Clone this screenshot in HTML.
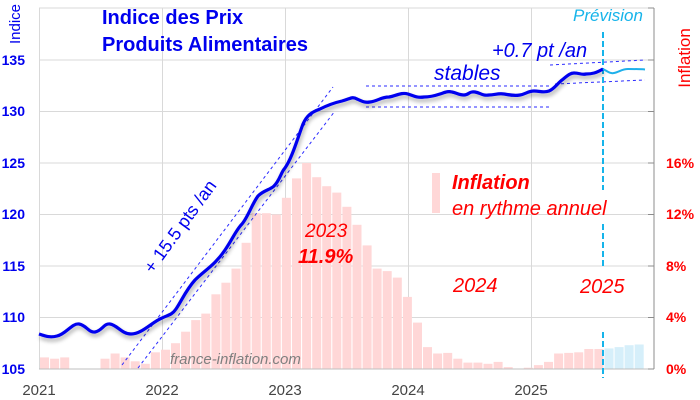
<!DOCTYPE html>
<html><head><meta charset="utf-8"><style>
html,body{margin:0;padding:0;background:#fff}
svg{display:block}
text{font-family:"Liberation Sans",sans-serif}
</style></head><body>
<svg width="700" height="400" viewBox="0 0 700 400" xmlns="http://www.w3.org/2000/svg">
<defs>
<filter id="sh" x="-10%" y="-10%" width="120%" height="130%"><feGaussianBlur in="SourceAlpha" stdDeviation="2"/><feOffset dx="1" dy="3"/><feComponentTransfer><feFuncA type="linear" slope="0.35"/></feComponentTransfer><feMerge><feMergeNode/><feMergeNode in="SourceGraphic"/></feMerge></filter>
</defs>
<g stroke="#d9d9d9" stroke-width="1">
<line x1="39" y1="60" x2="654" y2="60"/><line x1="39" y1="111.5" x2="654" y2="111.5"/><line x1="39" y1="163" x2="654" y2="163"/><line x1="39" y1="214.5" x2="654" y2="214.5"/><line x1="39" y1="266" x2="654" y2="266"/><line x1="39" y1="317.5" x2="654" y2="317.5"/>
<line x1="39.5" y1="8" x2="39.5" y2="369"/><line x1="162.5" y1="8" x2="162.5" y2="369"/><line x1="285.5" y1="8" x2="285.5" y2="369"/><line x1="408.5" y1="8" x2="408.5" y2="369"/><line x1="531.5" y1="8" x2="531.5" y2="369"/>
<line x1="39" y1="8" x2="654" y2="8"/>
</g>
<g fill="#ffd7d7">
<rect x="40.0" y="357.4" width="9" height="11.6"/>
<rect x="50.1" y="358.7" width="9" height="10.3"/>
<rect x="60.2" y="357.4" width="9" height="11.6"/>
<rect x="100.5" y="358.7" width="9" height="10.3"/>
<rect x="110.6" y="353.5" width="9" height="15.5"/>
<rect x="120.6" y="357.4" width="9" height="11.6"/>
<rect x="130.7" y="361.3" width="9" height="7.7"/>
<rect x="140.8" y="363.8" width="9" height="5.2"/>
<rect x="150.9" y="352.3" width="9" height="16.7"/>
<rect x="161.0" y="349.7" width="9" height="19.3"/>
<rect x="171.0" y="343.2" width="9" height="25.8"/>
<rect x="181.1" y="331.7" width="9" height="37.3"/>
<rect x="191.2" y="320.1" width="9" height="48.9"/>
<rect x="201.3" y="313.6" width="9" height="55.4"/>
<rect x="211.4" y="294.3" width="9" height="74.7"/>
<rect x="221.4" y="282.7" width="9" height="86.3"/>
<rect x="231.5" y="268.6" width="9" height="100.4"/>
<rect x="241.6" y="242.8" width="9" height="126.2"/>
<rect x="251.7" y="213.2" width="9" height="155.8"/>
<rect x="261.8" y="213.2" width="9" height="155.8"/>
<rect x="271.8" y="214.5" width="9" height="154.5"/>
<rect x="281.9" y="197.8" width="9" height="171.2"/>
<rect x="292.0" y="178.4" width="9" height="190.6"/>
<rect x="302.1" y="163.0" width="9" height="206.0"/>
<rect x="312.2" y="177.2" width="9" height="191.8"/>
<rect x="322.2" y="186.2" width="9" height="182.8"/>
<rect x="332.3" y="192.6" width="9" height="176.4"/>
<rect x="342.4" y="206.8" width="9" height="162.2"/>
<rect x="352.5" y="224.8" width="9" height="144.2"/>
<rect x="362.6" y="245.4" width="9" height="123.6"/>
<rect x="372.6" y="268.6" width="9" height="100.4"/>
<rect x="382.7" y="271.1" width="9" height="97.9"/>
<rect x="392.8" y="277.6" width="9" height="91.4"/>
<rect x="402.9" y="296.9" width="9" height="72.1"/>
<rect x="413.0" y="322.6" width="9" height="46.4"/>
<rect x="423.0" y="347.1" width="9" height="21.9"/>
<rect x="433.1" y="353.5" width="9" height="15.5"/>
<rect x="443.2" y="352.9" width="9" height="16.1"/>
<rect x="453.3" y="358.7" width="9" height="10.3"/>
<rect x="463.4" y="362.6" width="9" height="6.4"/>
<rect x="473.4" y="362.6" width="9" height="6.4"/>
<rect x="483.5" y="363.8" width="9" height="5.2"/>
<rect x="493.6" y="361.9" width="9" height="7.1"/>
<rect x="503.7" y="367.1" width="9" height="1.9"/>
<rect x="523.8" y="367.7" width="9" height="1.3"/>
<rect x="533.9" y="365.1" width="9" height="3.9"/>
<rect x="544.0" y="361.9" width="9" height="7.1"/>
<rect x="554.1" y="353.5" width="9" height="15.5"/>
<rect x="564.2" y="352.9" width="9" height="16.1"/>
<rect x="574.2" y="352.3" width="9" height="16.7"/>
<rect x="584.3" y="349.0" width="9" height="20.0"/>
<rect x="594.4" y="349.0" width="9" height="20.0"/>
</g>
<g fill="#d6effa">
<rect x="604.5" y="348.4" width="9" height="20.6"/>
<rect x="614.6" y="347.1" width="9" height="21.9"/>
<rect x="624.6" y="345.2" width="9" height="23.8"/>
<rect x="634.7" y="344.5" width="9" height="24.5"/>
</g>
<line x1="39" y1="369" x2="654" y2="369" stroke="#bfbfbf"/>
<line x1="654" y1="8" x2="654" y2="369" stroke="#8c8c8c"/>
<g stroke="#8c8c8c"><line x1="648" y1="8" x2="654" y2="8"/><line x1="648" y1="60" x2="654" y2="60"/><line x1="648" y1="111.5" x2="654" y2="111.5"/><line x1="648" y1="163" x2="654" y2="163"/><line x1="648" y1="214.5" x2="654" y2="214.5"/><line x1="648" y1="266" x2="654" y2="266"/><line x1="648" y1="317.5" x2="654" y2="317.5"/><line x1="648" y1="369" x2="654" y2="369"/></g>
<g stroke="#2b2bff" stroke-width="1" stroke-dasharray="3,3" fill="none">
<line x1="122" y1="365" x2="333" y2="87"/>
<line x1="138" y1="368" x2="335" y2="111"/>
<line x1="366" y1="86" x2="550" y2="86"/>
<line x1="366" y1="107" x2="550" y2="107"/>
<line x1="550" y1="65" x2="645" y2="60"/>
<line x1="555" y1="84" x2="645" y2="80"/>
</g>
<g stroke="#16b4ea" stroke-width="2" stroke-dasharray="6,3"><line x1="603" y1="32" x2="603" y2="190"/><line x1="603" y1="224" x2="603" y2="268"/><line x1="603" y1="332" x2="603" y2="378"/></g>
<path filter="url(#sh)" d="M39,334 C45,336 50,338 57,336 C66,334 72,323 79,324 C86,325 89,333 95,332 C102,331 104,323 110,324 C117,325 122,334 131,334 C142,334 152,322 162,318 C168,315 172,315 176,309 C182,300 186,290 195,280 C205,270 215,265 225,250 C232,240 236,230 242,224 C248,217 252,204 258,196 C264,190 270,190 274,186 C280,180 281,172 285,168 C292,158 297,140 303,124 C307,115 312,112 320,109 C328,105 333,103 342,101 C350,99 352,96 357,99 C362,101 364,103 370,102 C378,101 381,97 389,97 C396,96 401,92 408,94 C414,96 417,98 424,97 C430,97 434,96 440,94 C446,92 448,91 452,92 C457,93 459,95 464,95 C469,95 469,91 475,92 C481,93 482,96 489,95 C495,95 498,93 504,94 C510,95 514,96 520,95 C526,94 528,91 534,91 C540,91 544,93 549,91 C554,89 557,84 562,80 C567,76 570,73 574,73 C580,73 581,75 586,74 C592,74 596,73 603,69" fill="none" stroke="#0000ee" stroke-width="3.2" stroke-linejoin="round"/>
<path d="M603,69 C607,71 610,74 614,73 C619,72 622,69 628,69 C634,69 640,69 645,69.5" fill="none" stroke="#1fb0ea" stroke-width="2"/>
<line x1="62" y1="26" x2="92" y2="26" stroke="#0000ee" stroke-width="3.5" filter="url(#sh)"/>
<text x="102" y="24" font-size="20" font-weight="bold" fill="#0000ee">Indice des Prix</text>
<text x="102" y="51" font-size="20" font-weight="bold" fill="#0000ee">Produits Alimentaires</text>
<text transform="translate(20,24) rotate(-90)" text-anchor="middle" font-size="15" fill="#0000ee">Indice</text>
<text transform="translate(690,58) rotate(-90)" text-anchor="middle" font-size="17" fill="#ff0000">Inflation</text>
<g font-size="14" font-weight="bold" fill="#0000ee" text-anchor="end">
<text x="25" y="65">135</text><text x="25" y="116">130</text><text x="25" y="168">125</text><text x="25" y="219">120</text><text x="25" y="271">115</text><text x="25" y="322">110</text><text x="25" y="374">105</text>
</g>
<g font-size="14" font-weight="bold" fill="#ff0000">
<text x="666" y="168">16%</text><text x="666" y="219">12%</text><text x="666" y="271">8%</text><text x="666" y="322">4%</text><text x="666" y="374">0%</text>
</g>
<g font-size="15" fill="#444" text-anchor="middle">
<text x="39" y="395">2021</text><text x="162" y="395">2022</text><text x="285" y="395">2023</text><text x="408" y="395">2024</text><text x="531" y="395">2025</text>
</g>
<text x="573" y="21" font-size="17" font-style="italic" fill="#16b4ea">Prévision</text>
<text x="492" y="57" font-size="20" font-style="italic" fill="#0000ee">+0.7 pt /an</text>
<text x="434" y="80" font-size="21" font-style="italic" fill="#0000ee">stables</text>
<text transform="translate(185,230) rotate(-54)" text-anchor="middle" font-size="18" fill="#0000ee">+ 15.5 pts /an</text>
<rect x="432" y="173" width="8" height="40" fill="#ffd7d7"/>
<text x="452" y="189" font-size="20" font-weight="bold" font-style="italic" fill="#ff0000">Inflation</text>
<text x="452" y="215" font-size="20" font-style="italic" fill="#ff0000">en rythme annuel</text>
<text x="305" y="237" font-size="19" font-style="italic" fill="#ff0000">2023</text>
<text x="298" y="263" font-size="20" font-weight="bold" font-style="italic" fill="#ff0000">11.9%</text>
<text x="453" y="292" font-size="20" font-style="italic" fill="#ff0000">2024</text>
<text x="580" y="293" font-size="20" font-style="italic" fill="#ff0000">2025</text>
<text x="170" y="364" font-size="15" font-style="italic" fill="#7f7f7f">france-inflation.com</text>
</svg>
</body></html>
